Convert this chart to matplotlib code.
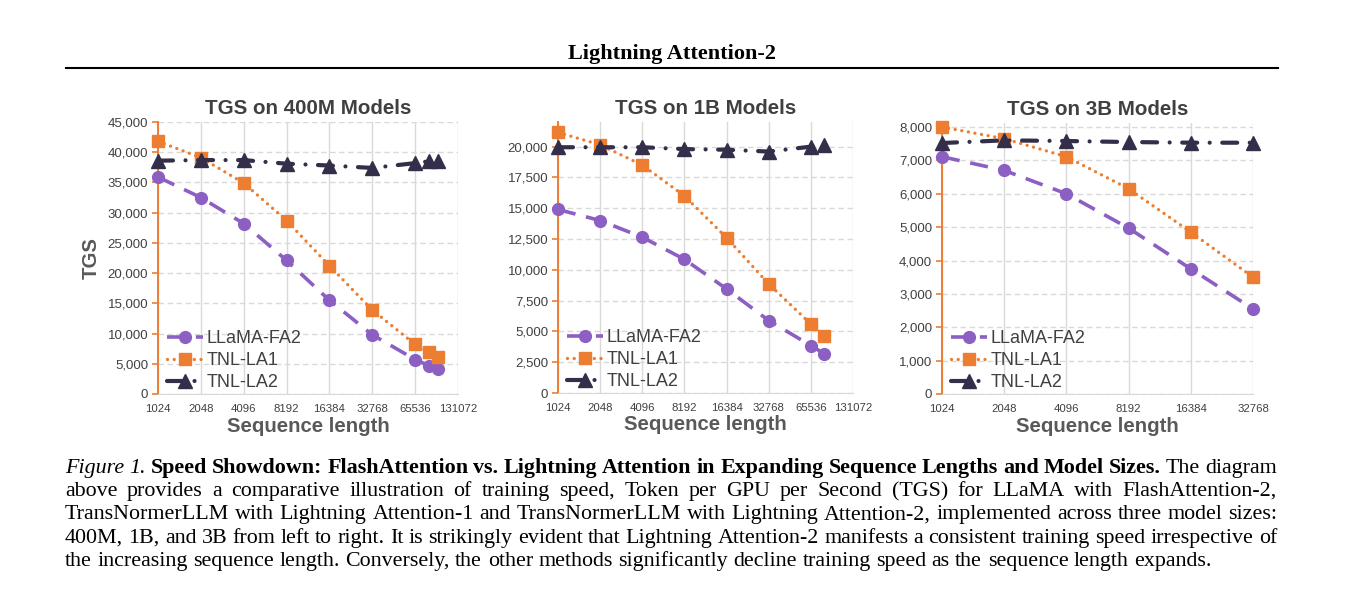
import matplotlib
matplotlib.use("Agg")
import matplotlib.pyplot as plt
from matplotlib.transforms import IdentityTransform

plt.rcParams['font.family'] = 'Liberation Sans'

# --- data ---
seq_400m = [1024, 2048, 4096, 8192, 16384, 32768, 65536, 81920, 94208]
fa2_400m = [35900, 32500, 28200, 22100, 15500, 9800, 5700, 4700, 4100]
la1_400m = [41800, 39100, 34900, 28700, 21200, 13900, 8200, 6900, 6100]
la2_400m = [38600, 38700, 38700, 38100, 37800, 37400, 38200, 38500, 38500]

seq_1b = [1024, 2048, 4096, 8192, 16384, 32768, 65536, 81920]
fa2_1b = [14900, 14000, 12650, 10850, 8450, 5880, 3850, 3180]
la1_1b = [21150, 20150, 18500, 16000, 12600, 8850, 5600, 4650]
la2_1b = [19950, 19950, 19950, 19800, 19750, 19600, 20000, 20150]

seq_3b = [1024, 2048, 4096, 8192, 16384, 32768]
fa2_3b = [7110, 6700, 6000, 4970, 3750, 2550]
la1_3b = [8000, 7650, 7110, 6150, 4850, 3500]
la2_3b = [7520, 7600, 7580, 7550, 7530, 7530]

labels = ["LLaMA-FA2", "TNL-LA1", "TNL-LA2"]
titles = ["TGS on 400M Models", "TGS on 1B Models", "TGS on 3B Models"]

PURPLE = "#8C5FC3"
ORANGE = "#ED7D31"
NAVY = "#332F4B"
GRID = "#D9D9D9"
TXT = "#404040"

W, H = 1358, 603
fig = plt.figure(figsize=(W / 100, H / 100), dpi=100)


def px_axes(left, top, right, bottom):
    return fig.add_axes([left / W, 1 - bottom / H, (right - left) / W, (bottom - top) / H])


panels = [
    ((158, 122, 458, 394), seq_400m, fa2_400m, la1_400m, la2_400m, 131072, 45000, 5000, 45000),
    ((558, 122, 853, 393), seq_1b, fa2_1b, la1_1b, la2_1b, 131072, 22000, 2500, 20000),
    ((942, 123, 1253, 394), seq_3b, fa2_3b, la1_3b, la2_3b, 32768, 8120, 1000, 8000),
]

for i, (rect, x, fa2, la1, la2, xmax, ytop, ystep, ytickmax) in enumerate(panels):
    ax = px_axes(*rect)
    ax.plot(x, fa2, color=PURPLE, lw=2.6, dashes=(5, 3), marker='o', ms=8.5,
            label=labels[0], clip_on=False, zorder=3)
    ax.plot(x, la1, color=ORANGE, lw=2.4, linestyle=(0, (0.01, 2)), dash_capstyle='round',
            marker='s', ms=8, label=labels[1], clip_on=False, zorder=3)
    ax.plot(x, la2, color=NAVY, lw=3, linestyle=(0, (3.6, 3, 0.01, 3)), dash_capstyle='round',
            marker='^', ms=9.5, label=labels[2], clip_on=False, zorder=3)

    ax.set_xscale('log', base=2)
    ax.set_xlim(1024, xmax)
    xt = [1024 * 2 ** k for k in range(20) if 1024 * 2 ** k <= xmax]
    ax.set_xticks(xt)
    ax.set_xticklabels([str(v) for v in xt])
    ax.minorticks_off()

    ax.set_ylim(0, ytop)
    yt = list(range(0, ytickmax + 1, ystep))
    ax.set_yticks(yt)
    ax.set_yticklabels([f"{v:,}" for v in yt])

    ax.grid(axis='x', color=GRID, lw=1, ls='-')
    ax.grid(axis='y', color=GRID, lw=1, ls=(0, (4, 2.5)))
    ax.set_axisbelow(True)
    for s in ['top', 'right']:
        ax.spines[s].set_visible(False)
    ax.spines['left'].set_color(ORANGE)
    ax.spines['left'].set_linewidth(1.4)
    ax.spines['bottom'].set_color(GRID)

    ax.tick_params(axis='y', color=ORANGE, length=4, width=1.2, labelcolor=TXT, labelsize=9.5, pad=3)
    ax.tick_params(axis='x', length=0, labelcolor=TXT, labelsize=8.2, pad=7)

    ax.set_title(titles[i], fontsize=14.8, fontweight='bold', color=TXT, pad=6)
    ax.set_xlabel("Sequence length", fontsize=14.7, fontweight='bold', color='#595959', labelpad=2)
    if i == 0:
        ax.set_ylabel("TGS", fontsize=14.7, fontweight='bold', color='#595959', labelpad=5)

    leg = ax.legend(loc='lower left', bbox_to_anchor=(0.02, 0.0), frameon=False, fontsize=13,
                    handlelength=2.0, handletextpad=0.2, labelspacing=0.28,
                    borderaxespad=0.05, borderpad=0.1)
    for t in leg.get_texts():
        t.set_color(TXT)

# --- header ---
fig.text(672 / W, 1 - 59.5 / H, "Lightning Attention-2", family='Liberation Serif',
         fontsize=16, fontweight='bold', ha='center', va='baseline')
fig.add_artist(plt.Line2D([66 / W, 1278 / W], [1 - 67.7 / H, 1 - 67.7 / H],
                          color='black', lw=1.5, transform=fig.transFigure))

# --- caption, justified like the paper ---
cap_lines = [
    [("Figure 1.", 'italic'),
     ("Speed Showdown: FlashAttention vs. Lightning Attention in Expanding Sequence Lengths and Model Sizes.", 'bold'),
     ("The diagram", 'normal')],
    [("above provides a comparative illustration of training speed, Token per GPU per Second (TGS) "
      "for LLaMA with FlashAttention-2,", 'normal')],
    [("TransNormerLLM with Lightning Attention-1 and TransNormerLLM with Lightning Attention-2, "
      "implemented across three model sizes:", 'normal')],
    [("400M, 1B, and 3B from left to right. It is strikingly evident that Lightning Attention-2 "
      "manifests a consistent training speed irrespective of", 'normal')],
    [("the increasing sequence length. Conversely, the other methods significantly decline "
      "training speed as the sequence length expands.", 'normal')],
]
baselines = [472.7, 496, 519.3, 542.6, 565.8]
x0, x1 = 65, 1277
FS = 15.8
renderer = fig.canvas.get_renderer()

for n, (segs, yb) in enumerate(zip(cap_lines, baselines)):
    words = []
    for txt, st in segs:
        for w in txt.split():
            words.append((w, st))
    arts = []
    for w, st in words:
        kw = dict(family='Liberation Serif', fontsize=FS, va='baseline', ha='left',
                  transform=IdentityTransform())
        if st == 'italic':
            kw['style'] = 'italic'
        elif st == 'bold':
            kw['weight'] = 'bold'
        arts.append(fig.text(0, H - yb, w, **kw))
    widths = [a.get_window_extent(renderer).width for a in arts]
    space = 0.25 * FS * 100 / 72
    if n < len(cap_lines) - 1:
        space = (x1 - x0 - sum(widths)) / (len(words) - 1)
    xp = x0
    for a, wd in zip(arts, widths):
        a.set_x(xp)
        xp += wd + space

fig.savefig("out.png", dpi=100)
